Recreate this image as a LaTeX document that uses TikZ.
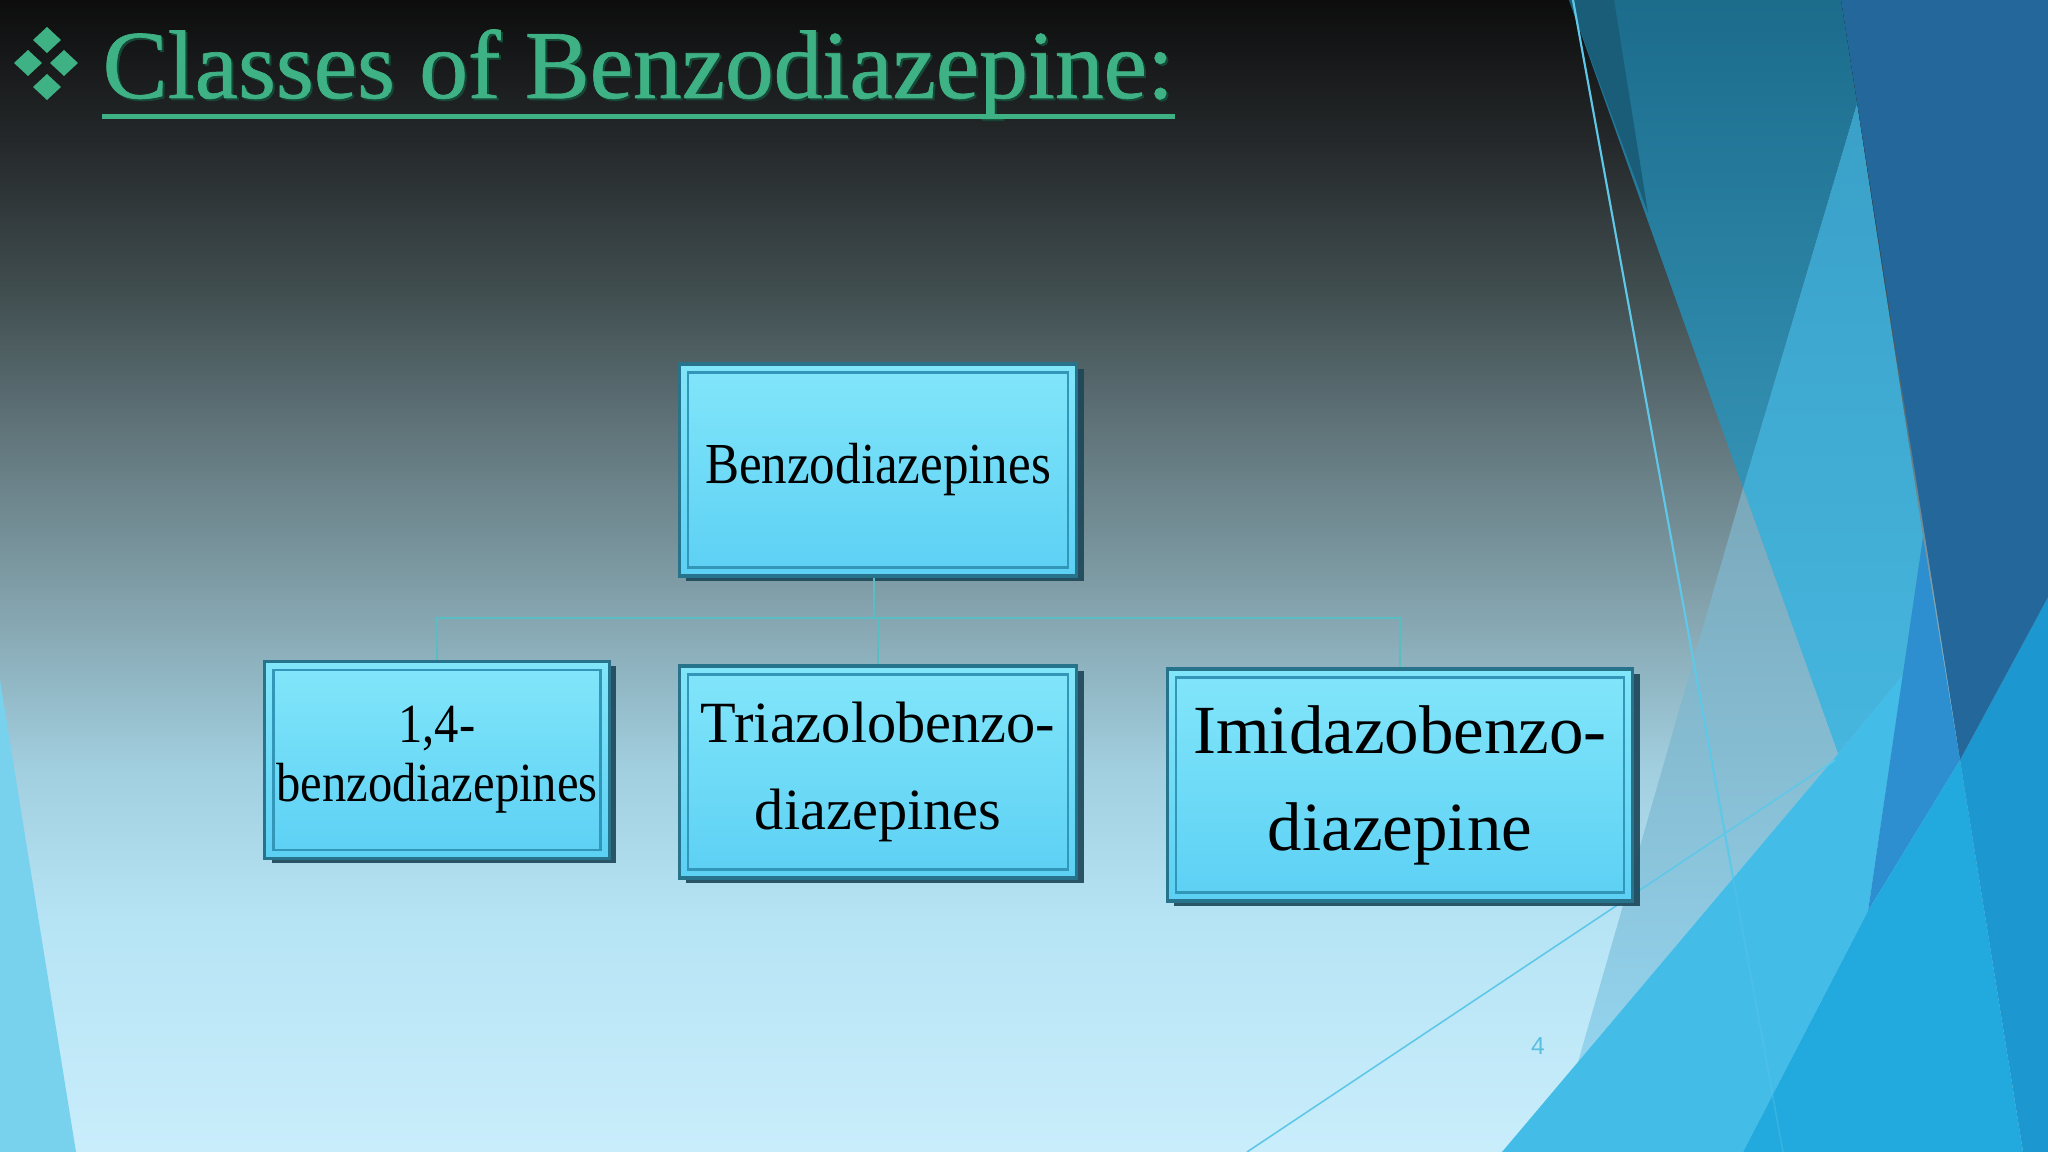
\documentclass[tikz,border=0pt]{standalone}
\usepackage{fontspec}
\setmainfont{Liberation Serif}
\newfontfamily\numfont{Liberation Sans}
\newfontfamily\titlefont[FakeBold=0.7]{Liberation Serif}
\newfontfamily\strettofont[FakeStretch=0.88]{Liberation Serif}
\usetikzlibrary{shadows}

% colori
\definecolor{bg0}{RGB}{13,13,13}
\definecolor{bg1}{RGB}{38,42,44}
\definecolor{bg2}{RGB}{66,80,82}
\definecolor{bg3}{RGB}{96,116,122}
\definecolor{bg4}{RGB}{128,158,168}
\definecolor{bg5}{RGB}{162,207,223}
\definecolor{bg6}{RGB}{182,228,245}
\definecolor{bg7}{RGB}{201,237,251}
\definecolor{lato}{RGB}{120,210,238}
\definecolor{tealtop}{RGB}{28,108,140}
\definecolor{tealbot}{RGB}{52,146,180}
\definecolor{striscia}{RGB}{26,93,120}
\definecolor{ciantop}{RGB}{58,160,200}
\definecolor{cianbot}{RGB}{70,182,222}
\definecolor{paletop}{RGB}{122,168,186}
\definecolor{palebot}{RGB}{148,212,238}
\definecolor{chiaro}{RGB}{68,188,232}
\definecolor{medio}{RGB}{45,143,207}
\definecolor{vivo}{RGB}{34,169,222}
\definecolor{vivoscuro}{RGB}{29,151,207}
\definecolor{scuro}{RGB}{36,104,155}
\definecolor{titlegreen}{RGB}{62,178,132}
\definecolor{titleshade}{RGB}{22,72,56}
\definecolor{boxtop}{RGB}{130,230,250}
\definecolor{boxbot}{RGB}{92,208,244}
\definecolor{boxedge}{RGB}{40,115,140}
\definecolor{boxline}{RGB}{50,150,185}
\definecolor{boxshade}{RGB}{28,70,88}
\definecolor{conncol}{RGB}{88,190,196}
\definecolor{thincol}{RGB}{95,200,232}
\definecolor{numcol}{RGB}{90,190,225}

\tikzset{
    classe/.style={
        draw=boxedge, line width=0.9pt,
        top color=boxtop, bottom color=boxbot,
        align=center, inner sep=0pt, text=black,
        drop shadow={shadow xshift=2pt, shadow yshift=-1.4pt, fill=boxshade, opacity=.9},
        path picture={\draw[boxline, line width=0.7pt]
            ([xshift=2.4pt,yshift=2.4pt]path picture bounding box.south west) rectangle
            ([xshift=-2.4pt,yshift=-2.4pt]path picture bounding box.north east);}
    },
    collega/.style={draw=conncol, line width=0.45pt}
}

\begin{document}
\begin{tikzpicture}[x=0.01cm, y=-0.01cm]
        % Sfondo
        \useasboundingbox (0,0) rectangle (2048,1152);
        \foreach \ya/\yb/\ca/\cb in {0/150/bg0/bg1, 149/300/bg1/bg2, 299/430/bg2/bg3,
            429/590/bg3/bg4, 589/770/bg4/bg5, 769/920/bg5/bg6, 919/1152/bg6/bg7}
            \shade[top color=\ca, bottom color=\cb] (0,\ya) rectangle (2048,\yb);
        % Faccette
        \begin{scope}
            \clip (0,0) rectangle (2048,1152);
            \fill[lato] (0,680) -- (76,1152) -- (0,1152) -- cycle;
            \shade[top color=tealtop, bottom color=tealbot]
                (1569,0) -- (1841,0) -- (1857,103) -- (1743,488) -- cycle;
            \fill[striscia] (1569,0) -- (1614,0) -- (1648,213) -- cycle;
            \shade[top color=ciantop, bottom color=cianbot]
                (1857,103) -- (1923,537) -- (1903,675) -- (1838,754) -- (1743,488) -- cycle;
            \shade[top color=paletop, bottom color=palebot]
                (1743,488) -- (1838,754) -- (1578,1062) -- cycle;
            % Linee sottili
            \draw[thincol, line width=0.6pt] (1573,0) -- (1783,1152);
            \fill[chiaro] (1502,1152) -- (1838,754) -- (1903,675) -- (1868,911) -- (1743,1152) -- cycle;
            \fill[medio] (1923,537) -- (1960,760) -- (1868,911) -- cycle;
            \fill[vivo] (1743,1152) -- (1868,911) -- (1960,760) -- (2023,1152) -- cycle;
            \fill[vivoscuro] (1960,760) -- (2048,597) -- (2048,1152) -- (2023,1152) -- cycle;
            \fill[scuro] (1841,0) -- (2048,0) -- (2048,597) -- (1960,760) -- cycle;
            \draw[thincol, line width=0.5pt, opacity=.3] (1573,0) -- (1783,1152);
            \draw[thincol, line width=0.45pt] (1247,1152) -- (1835,760);
        \end{scope}
        % Titolo
        \foreach \cx/\cy in {47/40, 28/63, 64/63, 47/87}
            \fill[titlegreen] (\cx-14,\cy) -- (\cx,\cy-13) -- (\cx+14,\cy) -- (\cx,\cy+13) -- cycle;
        \node[anchor=base west, inner sep=0pt, text=titleshade, font=\titlefont\fontsize{27.7}{30}\selectfont]
            (ombra) at (104,100) {Classes of Benzodiazepine:};
        \node[anchor=base west, inner sep=0pt, text=titlegreen, font=\titlefont\fontsize{27.7}{30}\selectfont]
            (titolo) at (102,98) {Classes of Benzodiazepine:};
        \fill[titlegreen] ([yshift=-4.6pt]titolo.base west) rectangle ([yshift=-6pt]titolo.base east);
        % Riquadri
        \node[classe, minimum width=3.97cm, minimum height=2.12cm, font=\strettofont\fontsize{16.5}{18}\selectfont]
            (radice) at (878,470) {Benzodiazepines};
        \node[classe, minimum width=3.44cm, minimum height=1.97cm, font=\strettofont\fontsize{15.7}{16.8}\selectfont]
            (benzo) at (437,760) {1,4-\\benzodiazepines};
        \node[classe, minimum width=3.97cm, minimum height=2.12cm, font=\fontsize{16.6}{24.5}\selectfont]
            (triazolo) at (878,772) {Triazolobenzo-\\diazepines};
        \node[classe, minimum width=4.65cm, minimum height=2.32cm, font=\fontsize{19.6}{27.6}\selectfont]
            (imidazo) at (1400,785) {Imidazobenzo-\\diazepine};
        % Collegamenti
        \coordinate (bus) at (874,618);
        \draw[collega] (radice.south -| bus) -- (bus);
        \foreach \figlio in {benzo,triazolo,imidazo}
            \draw[collega] (bus) -| (\figlio.north);
        % Numero pagina
        \node[text=numcol, font=\numfont\fontsize{7}{8}\selectfont] (pagina) at (1538,1046) {4};
\end{tikzpicture}
\end{document}
